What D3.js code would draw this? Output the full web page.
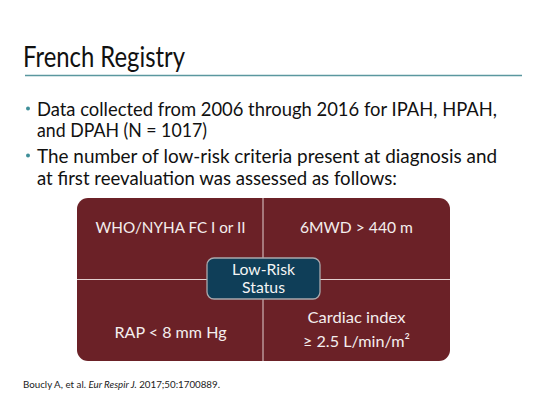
<!DOCTYPE html>
<html>
<head>
<meta charset="utf-8">
<script src="https://cdn.jsdelivr.net/npm/d3@7"></script>
<style>
  html, body { margin: 0; padding: 0; background: #ffffff; }
  svg { display: block; }
  text { font-family: Lato, "Open Sans", "Noto Sans", sans-serif; }
</style>
</head>
<body>
<svg id="slide" width="540" height="405"></svg>
<script>
// ---- content ----
const title = "French Registry";
const bullets = [
  ["Data collected from 2006 through 2016 for IPAH, HPAH,", "and DPAH (N = 1017)"],
  ["The number of low-risk criteria present at diagnosis and", "at first reevaluation was assessed as follows:"]
];
const gridCols = ["left", "right"];
const gridRows = ["top", "bottom"];
const quadrantLabels = [
  { col: "left",  row: "top",    lines: ["WHO/NYHA FC I or II"] },
  { col: "right", row: "top",    lines: ["6MWD > 440 m"] },
  { col: "left",  row: "bottom", lines: ["RAP < 8 mm Hg"] },
  { col: "right", row: "bottom", lines: ["Cardiac index", "\u2265 2.5 L/min/m\u00B2"] }
];
const centerLabel = ["Low-Risk", "Status"];
const footerParts = [
  { t: "Boucly A, et al. ", italic: false },
  { t: "Eur Respir J.", italic: true },
  { t: " 2017;50:1700889.", italic: false }
];

// ---- drawing ----
const svg = d3.select("#slide");

function fitTo(sel, w) {
  sel.attr("textLength", w).attr("lengthAdjust", "spacingAndGlyphs");
}

// Title
const titleText = svg.append("text")
  .attr("x", 23).attr("y", 67)
  .attr("fill", "#111")
  .style("font-size", "28px")
  .text(title);
fitTo(titleText, 162);

svg.append("line")
  .attr("x1", 25).attr("x2", 522)
  .attr("y1", 75.5).attr("y2", 75.5)
  .attr("stroke", "#5a979f").attr("stroke-width", 1.3);

// Bullets
const lineY = [[116, 137], [163, 185]];
const lineW = [[460, 170], [460, 360]];
bullets.forEach((lines, i) => {
  svg.append("circle")
    .attr("cx", 28).attr("cy", lineY[i][0] - 7.5)
    .attr("r", 2).attr("fill", "#3f8f99");
  lines.forEach((ln, j) => {
    const t = svg.append("text")
      .attr("x", 37).attr("y", lineY[i][j])
      .attr("fill", "#111")
      .style("font-size", "18.5px")
      .text(ln);
    fitTo(t, lineW[i][j]);
  });
});

// Grid box
const box = { x0: 77, x1: 450, y0: 198, y1: 361 };
const xB = d3.scaleBand().domain(gridCols).range([box.x0, box.x1]);
const yB = d3.scaleBand().domain(gridRows).range([box.y0, box.y1]);

svg.append("rect")
  .attr("x", box.x0).attr("y", box.y0)
  .attr("width", box.x1 - box.x0).attr("height", box.y1 - box.y0)
  .attr("rx", 11).attr("ry", 11)
  .attr("fill", "#6b2127");

const midX = 263, midY = 279.5;
svg.append("line")
  .attr("x1", midX).attr("x2", midX)
  .attr("y1", box.y0).attr("y2", box.y1)
  .attr("stroke", "#e2cfcf").attr("stroke-width", 1);
svg.append("line")
  .attr("x1", box.x0).attr("x2", box.x1)
  .attr("y1", midY).attr("y2", midY)
  .attr("stroke", "#e2cfcf").attr("stroke-width", 1);

// quadrant labels
const colCenter = { left: 170.5, right: 356.5 };
const rowBase = { top: [233], bottom: [338] };
const rightBottomBase = [323, 347];
const labelW = {
  "WHO/NYHA FC I or II": 150, "6MWD > 440 m": 113, "RAP < 8 mm Hg": 112,
  "Cardiac index": 98, "\u2265 2.5 L/min/m\u00B2": 107, "Low-Risk": 63, "Status": 43
};
const qSel = svg.append("g").attr("fill", "#f4eeee");
quadrantLabels.forEach(q => {
  const bases = q.lines.length === 2 ? rightBottomBase : rowBase[q.row];
  q.lines.forEach((ln, j) => {
    const t = qSel.append("text")
      .attr("x", colCenter[q.col])
      .attr("y", bases[j])
      .attr("text-anchor", "middle")
      .style("font-size", "16px")
      .text(ln);
    fitTo(t, labelW[ln]);
  });
});

// center label
svg.append("rect")
  .attr("x", 207).attr("y", 258)
  .attr("width", 113).attr("height", 41)
  .attr("rx", 7).attr("ry", 7)
  .attr("fill", "#0f3e58")
  .attr("stroke", "#a9a9ad").attr("stroke-width", 1.3);
const cBase = [275, 293];
centerLabel.forEach((ln, j) => {
  const t = svg.append("text")
    .attr("x", 263.5).attr("y", cBase[j])
    .attr("text-anchor", "middle")
    .attr("fill", "#f4f4f4")
    .style("font-size", "16px")
    .text(ln);
  fitTo(t, labelW[ln]);
});

// footer
const foot = svg.append("text")
  .attr("x", 23).attr("y", 388)
  .attr("fill", "#222")
  .style("font-size", "10px");
footerParts.forEach(p => {
  foot.append("tspan")
    .style("font-style", p.italic ? "italic" : "normal")
    .text(p.t);
});
fitTo(foot, 197);
</script>
</body>
</html>
